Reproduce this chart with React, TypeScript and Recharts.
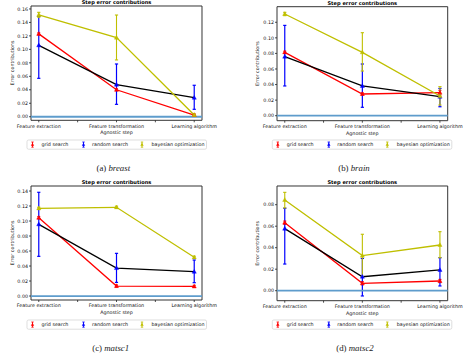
import React from 'react';
import { LineChart, Line, XAxis, YAxis, ErrorBar, ReferenceLine, ReferenceArea } from 'recharts';

const categories = ['Feature extraction', 'Feature transformation', 'Learning algorithm'];
const xTicks = [0, 0.5, 1, 1.5, 2];
const seriesNames = ['grid search', 'random search', 'bayesian optimization'];
const chartTitle = 'Step error contributions';
const xLabel = 'Agnostic step';
const yLabel = 'Error contributions';
const captionLetters = ['(a)', '(b)', '(c)', '(d)'];
const datasetNames = ['breast', 'brain', 'matsc1', 'matsc2'];

// (a) breast
const breastGrid = [0.123, 0.040, 0.0025];
const breastGridRange = [[0.1215, 0.1245], [0.0385, 0.0415], [0.001, 0.004]];
const breastRandom = [0.106, 0.0476, 0.0282];
const breastRandomRange = [[0.057, 0.149], [0.0184, 0.0783], [0.011, 0.0467]];
const breastBayes = [0.1511, 0.1174, 0.0025];
const breastBayesRange = [[0.1477, 0.155], [0.0843, 0.151], [0.001, 0.004]];

// (b) brain
const brainGrid = [0.0814, 0.0279, 0.0296];
const brainGridRange = [[0.0799, 0.0829], [0.0264, 0.0294], [0.0266, 0.0326]];
const brainRandom = [0.0758, 0.0382, 0.0244];
const brainRandomRange = [[0.0382, 0.116], [0.0108, 0.0664], [0.0115, 0.035]];
const brainBayes = [0.1306, 0.0814, 0.0253];
const brainBayesRange = [[0.1285, 0.1328], [0.0574, 0.1066], [0.0137, 0.0373]];

// (c) matsc1
const matsc1Grid = [0.1044, 0.0133, 0.0128];
const matsc1GridRange = [[0.1029, 0.1059], [0.0118, 0.0148], [0.0113, 0.0143]];
const matsc1Random = [0.0956, 0.0373, 0.0324];
const matsc1RandomRange = [[0.0529, 0.1383], [0.0182, 0.0569], [0.0178, 0.048]];
const matsc1Bayes = [0.1169, 0.1183, 0.0516];
const matsc1BayesRange = [[0.1154, 0.1184], [0.1168, 0.1198], [0.0501, 0.0531]];

// (d) matsc2
const matsc2Grid = [0.0633, 0.0069, 0.009];
const matsc2GridRange = [[0.0618, 0.0648], [0.0054, 0.0084], [0.0075, 0.0105]];
const matsc2Random = [0.0577, 0.013, 0.0193];
const matsc2RandomRange = [[0.0248, 0.0767], [-0.0049, 0.030], [0.0044, 0.0307]];
const matsc2Bayes = [0.0844, 0.0326, 0.0425];
const matsc2BayesRange = [[0.077, 0.0915], [0.013, 0.0525], [0.0307, 0.0549]];

const COLORS = { grid: '#ff0000', randomMarker: '#0000ff', randomLine: '#000000', bayes: '#bfbf00', zero: '#5e9ccc' };
const FONT = '"DejaVu Sans", sans-serif';
const TXT = '#111';

function buildRows(g: number[], gr: number[][], r: number[], rr: number[][], b: number[], br: number[][]) {
  return categories.map((c, i) => ({
    x: i,
    name: c,
    grid: g[i],
    gridErr: [g[i] - gr[i][0], gr[i][1] - g[i]],
    random: r[i],
    randomErr: [r[i] - rr[i][0], rr[i][1] - r[i]],
    bayes: b[i],
    bayesErr: [b[i] - br[i][0], br[i][1] - b[i]],
  }));
}

type Cfg = {
  ox: number; oy: number; L: number; R: number; T: number; B: number;
  yDomain: [number, number]; yTicks: number[]; rows: any[];
};

const panels: Cfg[] = [
  { ox: 0, oy: 0, L: 31, R: 202, T: 6, B: 120.3, yDomain: [-0.0053, 0.1644],
    yTicks: [0, 0.02, 0.04, 0.06, 0.08, 0.1, 0.12, 0.14, 0.16],
    rows: buildRows(breastGrid, breastGridRange, breastRandom, breastRandomRange, breastBayes, breastBayesRange) },
  { ox: 237, oy: 0, L: 277, R: 447.7, T: 6.7, B: 120.7, yDomain: [-0.0064, 0.14],
    yTicks: [0, 0.02, 0.04, 0.06, 0.08, 0.1, 0.12],
    rows: buildRows(brainGrid, brainGridRange, brainRandom, brainRandomRange, brainBayes, brainBayesRange) },
  { ox: 0, oy: 180, L: 31, R: 202, T: 186, B: 300, yDomain: [-0.0053, 0.1467],
    yTicks: [0, 0.02, 0.04, 0.06, 0.08, 0.1, 0.12, 0.14],
    rows: buildRows(matsc1Grid, matsc1GridRange, matsc1Random, matsc1RandomRange, matsc1Bayes, matsc1BayesRange) },
  { ox: 237, oy: 180, L: 277, R: 447.7, T: 186, B: 300.7, yDomain: [-0.0093, 0.0974],
    yTicks: [0, 0.02, 0.04, 0.06, 0.08],
    rows: buildRows(matsc2Grid, matsc2GridRange, matsc2Random, matsc2RandomRange, matsc2Bayes, matsc2BayesRange) },
];

function triDot(color: string) {
  return (p: any) => {
    const { cx, cy, index } = p;
    if (cx == null || cy == null) return <g key={`d${index}`} />;
    return (
      <polygon
        key={`d${index}`}
        points={`${cx},${cy - 2.3} ${cx - 2.1},${cy + 1.5} ${cx + 2.1},${cy + 1.5}`}
        fill={color}
        stroke={color}
        strokeWidth={0.4}
      />
    );
  };
}

function XTick(props: any) {
  const { x, y, payload } = props;
  const v = payload.value;
  if (!Number.isInteger(v)) return <g />;
  return (
    <text x={x} y={y} dy="0.71em" textAnchor="middle" fontSize={4.8} fill={TXT} fontFamily={FONT}>
      {categories[v]}
    </text>
  );
}

function Panel({ cfg }: { cfg: Cfg }) {
  const W = 237;
  const xH = 15;
  const H = cfg.B - cfg.oy + xH;
  return (
    <div style={{ position: 'absolute', left: cfg.ox, top: cfg.oy, width: W, height: H }}>
      <LineChart
        width={W}
        height={H}
        data={cfg.rows}
        margin={{ top: cfg.T - cfg.oy, right: cfg.ox + W - cfg.R, left: 0, bottom: 0 }}
      >
        <XAxis
          dataKey="x"
          type="number"
          domain={[-0.1, 2.1]}
          ticks={xTicks}
          interval={0}
          allowDataOverflow
          axisLine={false}
          tickSize={2}
          tickMargin={2}
          tickLine={{ stroke: '#222', strokeWidth: 0.8 }}
          tick={<XTick />}
          height={xH}
        />
        <YAxis
          type="number"
          domain={cfg.yDomain}
          ticks={cfg.yTicks}
          interval={0}
          allowDataOverflow
          axisLine={false}
          width={cfg.L - cfg.ox}
          tickSize={2}
          tickMargin={1}
          tickLine={{ stroke: '#222', strokeWidth: 0.8 }}
          tick={{ fontSize: 4.8, fill: TXT, fontFamily: FONT }}
          tickFormatter={(v: number) => v.toFixed(2)}
        />
        <Line dataKey="grid" stroke={COLORS.grid} strokeWidth={1.3} dot={triDot(COLORS.grid)} isAnimationActive={false}>
          <ErrorBar dataKey="gridErr" direction="y" width={1.5} stroke={COLORS.grid} strokeWidth={1} />
        </Line>
        <Line dataKey="random" stroke={COLORS.randomLine} strokeWidth={1.3} dot={triDot(COLORS.randomMarker)} isAnimationActive={false}>
          <ErrorBar dataKey="randomErr" direction="y" width={1.6} stroke={COLORS.randomMarker} strokeWidth={1.2} />
        </Line>
        <Line dataKey="bayes" stroke={COLORS.bayes} strokeWidth={1.3} dot={triDot(COLORS.bayes)} isAnimationActive={false}>
          <ErrorBar dataKey="bayesErr" direction="y" width={1.6} stroke={COLORS.bayes} strokeWidth={1.1} />
        </Line>
        <ReferenceLine y={0} stroke={COLORS.zero} strokeWidth={1.8} />
        <ReferenceArea x1={-0.1} x2={2.1} y1={cfg.yDomain[0]} y2={cfg.yDomain[1]} fill="none" fillOpacity={0} stroke="#333" strokeWidth={1} />
      </LineChart>
    </div>
  );
}

function LegendBox({ x, y }: { x: number; y: number }) {
  const cy = y + 4.6;
  const items = [
    { icon: 5.5, text: 14.5, color: COLORS.grid, name: seriesNames[0] },
    { icon: 56.5, text: 65, color: COLORS.randomMarker, name: seriesNames[1] },
    { icon: 115, text: 124.5, color: COLORS.bayes, name: seriesNames[2] },
  ];
  return (
    <g>
      <rect x={x} y={y} width={179.5} height={9.2} rx={1.5} fill="#fff" stroke="#d0d0d0" strokeWidth={0.7} />
      {items.map((it) => (
        <g key={it.name}>
          <line x1={x + it.icon} x2={x + it.icon} y1={cy - 2.6} y2={cy + 2.6} stroke={it.color} strokeWidth={0.9} />
          <line x1={x + it.icon - 1.2} x2={x + it.icon + 1.2} y1={cy - 2.6} y2={cy - 2.6} stroke={it.color} strokeWidth={0.8} />
          <line x1={x + it.icon - 1.2} x2={x + it.icon + 1.2} y1={cy + 2.6} y2={cy + 2.6} stroke={it.color} strokeWidth={0.8} />
          <polygon
            points={`${x + it.icon},${cy - 1.8} ${x + it.icon - 1.7},${cy + 1.2} ${x + it.icon + 1.7},${cy + 1.2}`}
            fill={it.color}
          />
          <text x={x + it.text} y={cy} dominantBaseline="central" fontSize={4.8} fill={TXT} fontFamily={FONT}>
            {it.name}
          </text>
        </g>
      ))}
    </g>
  );
}

function Overlay() {
  const texts = [
    { cx: 116.5, top: 2.3, xl: 132.9, yx: 12.7, yc: 63, cap: [113.3, 168], leg: [27, 140] },
    { cx: 362.3, top: 2.8, xl: 133.3, yx: 257.7, yc: 63.7, cap: [354, 168], leg: [272.3, 140] },
    { cx: 116.5, top: 182.4, xl: 312.7, yx: 12.7, yc: 243, cap: [110.7, 348], leg: [27, 320] },
    { cx: 362.3, top: 182.4, xl: 313.3, yx: 257.7, yc: 243.3, cap: [355, 348], leg: [272.3, 320] },
  ];
  return (
    <svg width={474} height={363} style={{ position: 'absolute', left: 0, top: 0, pointerEvents: 'none' }}>
      {texts.map((t, i) => (
        <g key={i}>
          <text x={t.cx} y={t.top} textAnchor="middle" dominantBaseline="central" fontSize={5.1} fontWeight="bold" fill="#000" fontFamily={FONT}>
            {chartTitle}
          </text>
          <text x={t.cx} y={t.xl} textAnchor="middle" dominantBaseline="central" fontSize={4.8} fill={TXT} fontFamily={FONT}>
            {xLabel}
          </text>
          <text
            x={t.yx}
            y={t.yc}
            textAnchor="middle"
            dominantBaseline="central"
            fontSize={4.8}
            fill={TXT}
            fontFamily={FONT}
            transform={`rotate(-90 ${t.yx} ${t.yc})`}
          >
            {yLabel}
          </text>
          <LegendBox x={t.leg[0]} y={t.leg[1]} />
          <text x={t.cap[0]} y={t.cap[1]} textAnchor="middle" dominantBaseline="central" fontSize={8.8} fill="#222" fontFamily='"Liberation Serif", serif'>
            {captionLetters[i]} <tspan fontStyle="italic">{datasetNames[i]}</tspan>
          </text>
        </g>
      ))}
    </svg>
  );
}

export default function App() {
  return (
    <div style={{ position: 'absolute', left: 0, top: 0, width: 474, height: 363, background: '#fff', overflow: 'hidden' }}>
      {panels.map((p, i) => (
        <Panel key={i} cfg={p} />
      ))}
      <Overlay />
    </div>
  );
}
